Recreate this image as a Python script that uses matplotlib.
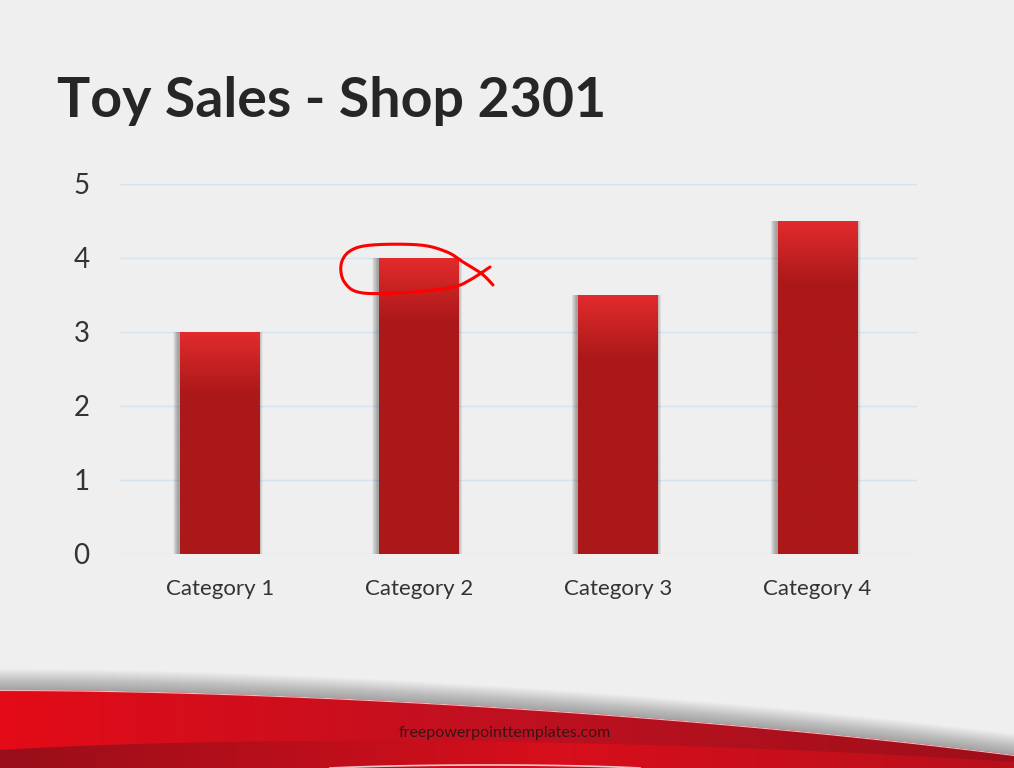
"""
Toy sales bar chart styled like a red slide template.
"""

import numpy as np
import matplotlib.pyplot as plt
from matplotlib.patches import Polygon
from matplotlib.colors import to_rgb

categories = ["Category 1", "Category 2", "Category 3", "Category 4"]
sales = [3.0, 4.0, 3.5, 4.5]
y_ticks = [0, 1, 2, 3, 4, 5]
title = "Toy Sales - Shop 2301"
footer = "freepowerpointtemplates.com"

W, H = 1014, 768
BAR_LIGHT = "#e22b2d"
BAR_DARK = "#ab1819"
TEXT = "#333333"
GRID = "#d5e3f0"

plt.rcParams["font.family"] = ["Lato", "DejaVu Sans"]

fig = plt.figure(figsize=(W / 100, H / 100), dpi=100)
fig.patch.set_facecolor("#efefef")

# decoration layer, in pixel coordinates (y down)
bg = fig.add_axes([0, 0, 1, 1], zorder=0)
bg.axis("off")


def bezier(p0, p1, p2, p3, n=80):
    t = np.linspace(0, 1, n)[:, None]
    p0, p1, p2, p3 = (np.array(p, float) for p in (p0, p1, p2, p3))
    return (1 - t) ** 3 * p0 + 3 * (1 - t) ** 2 * t * p1 \
        + 3 * (1 - t) * t ** 2 * p2 + t ** 3 * p3


def gradient_fill(axis, verts, stops, zorder):
    patch = Polygon(verts, closed=True, facecolor="none",
                    edgecolor="none", zorder=zorder)
    axis.add_patch(patch)
    xs = np.linspace(0, 1, 256)
    pos = [s[0] for s in stops]
    cols = np.array([to_rgb(s[1]) for s in stops])
    img = np.stack([np.interp(xs, pos, cols[:, i]) for i in range(3)], -1)
    im = axis.imshow(img[None, :, :], extent=(0, W, H, 0), aspect="auto",
                     zorder=zorder, interpolation="bilinear")
    im.set_clip_path(patch)


# upper red band of the swoosh
top_edge = bezier((0, 690), (300, 690), (700, 715), (W, 755))
upper = np.vstack([top_edge, [(W, H + 5), (0, H + 5)]])

# soft shadow above the band
for k in range(1, 22):
    sh = upper.copy()
    sh[:-2, 1] -= k
    bg.add_patch(Polygon(sh, closed=True, facecolor="black",
                         edgecolor="none", alpha=0.016, zorder=1))

gradient_fill(bg, upper, [(0, "#e30b17"), (0.5, "#bf1121"), (1, "#9e0f19")], 2)
bg.plot(top_edge[:, 0], top_edge[:, 1] + 0.5, color="#f3b8bc", lw=0.8, zorder=3)

# lower band
low_edge = bezier((0, 750), (250, 735), (650, 738), (W, 762))
lower = np.vstack([low_edge, [(W, H + 5), (0, H + 5)]])
gradient_fill(bg, lower, [(0, "#980f19"), (0.55, "#d80e1c"), (1, "#b8101b")], 4)
hl = bezier((330, 768), (420, 764), (560, 764), (640, 768), 40)
bg.plot(hl[:, 0], hl[:, 1], color="#f0c8cc", lw=1.2, zorder=5)

bg.set_xlim(0, W)
bg.set_ylim(H, 0)

fig.text(505 / W, 1 - 733 / H, footer, ha="center", va="center",
         fontsize=11.5, color="#3a1414")

fig.text(57 / W, 1 - 117 / H, title, ha="left", va="baseline",
         fontsize=40, fontweight="bold", color="#262626")

# chart
ax = fig.add_axes([120 / W, 1 - 554 / H, 797 / W, 370 / H], zorder=2)
ax.patch.set_visible(False)
x = np.arange(len(categories))
width = 0.40

# soft side shadows of the bars
for extra in np.linspace(0.004, 0.05, 10):
    ax.bar(x - 0.008, sales, width=width + extra, color="black",
           alpha=0.035, zorder=1, linewidth=0)

bars = ax.bar(x, sales, width=width, color=BAR_DARK, zorder=2, linewidth=0)
light, dark = np.array(to_rgb(BAR_LIGHT)), np.array(to_rgb(BAR_DARK))
for rect, h in zip(bars, sales):
    y = np.linspace(h, 0, 300)
    d = h - y
    img = np.stack([np.interp(d, [0, 0.85], [light[i], dark[i]])
                    for i in range(3)], -1)
    x0 = rect.get_x()
    im = ax.imshow(img[:, None, :], extent=(x0, x0 + rect.get_width(), 0, h),
                   aspect="auto", zorder=3, interpolation="bilinear")
    im.set_clip_path(rect)

ax.set_xlim(-0.5, len(categories) - 0.5)
ax.set_ylim(0, 5)
ax.set_yticks(y_ticks)
ax.set_xticks(x)
ax.set_xticklabels(categories)
ax.grid(axis="y", color=GRID, linewidth=1)
ax.set_axisbelow(True)
for s in ["top", "right", "left", "bottom"]:
    ax.spines[s].set_visible(False)
ax.tick_params(length=0)
ax.tick_params(axis="y", labelsize=20, labelcolor=TEXT, pad=22)
ax.tick_params(axis="x", labelsize=16, labelcolor=TEXT, pad=18)

# hand-drawn mark around Category 2
pts = np.array([(490, 267), (470, 280), (453, 287), (413, 292), (363, 293),
                (345, 283), (341, 265), (350, 251), (372, 245), (420, 245),
                (447, 252), (463, 262), (482, 274), (493, 285)], float)
# Catmull-Rom smoothing of the stroke
P = np.vstack([pts[0], pts, pts[-1]])
stroke = []
for i in range(1, len(P) - 2):
    p0, p1, p2, p3 = P[i - 1], P[i], P[i + 1], P[i + 2]
    for t in np.linspace(0, 1, 12, endpoint=False):
        stroke.append(0.5 * (2 * p1 + (-p0 + p2) * t
                             + (2 * p0 - 5 * p1 + 4 * p2 - p3) * t ** 2
                             + (-p0 + 3 * p1 - 3 * p2 + p3) * t ** 3))
stroke.append(pts[-1])
stroke = np.array(stroke)

ov = fig.add_axes([0, 0, 1, 1], zorder=5)
ov.patch.set_visible(False)
ov.axis("off")
ov.plot(stroke[:, 0], stroke[:, 1], color="#ff0000", lw=2.2,
        solid_capstyle="round", solid_joinstyle="round")
ov.set_xlim(0, W)
ov.set_ylim(H, 0)

fig.savefig("out.png", dpi=100, facecolor=fig.get_facecolor())
